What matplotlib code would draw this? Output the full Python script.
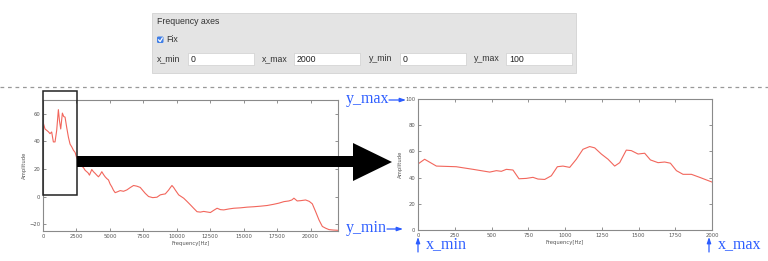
import matplotlib
matplotlib.use('Agg')
import matplotlib.pyplot as plt
from matplotlib.patches import Rectangle, FancyBboxPatch, Polygon

# full spectrum (left)
freq_full = [0, 150, 400, 524, 649, 774, 899, 1024, 1149, 1230, 1324, 1449, 1548, 1648, 1773,
             1900, 2023, 2150, 2273, 2400, 2522, 2650, 2772, 2900, 3022, 3150, 3272, 3380, 3472,
             3646, 3770, 3896, 4020, 4146, 4280, 4396, 4520, 4645, 4770, 4895, 5020, 5145, 5270,
             5395, 5580, 5769, 6020, 6269, 6520, 6768, 7020, 7268, 7450, 7643, 7892, 8200, 8517,
             8766, 8950, 9141, 9391, 9520, 9640, 9770, 9890, 10140, 10515, 10760, 11014, 11260,
             11513, 11760, 12013, 12260, 12512, 12760, 13012, 13260, 13511, 13900, 14260, 14760,
             15259, 15760, 16258, 16760, 17257, 17630, 18007, 18380, 18600, 18756, 19000, 19256,
             19630, 19900, 20130, 20380, 20630, 20880, 21130, 21380, 21700, 22050]
amp_full = [54, 49, 47, 45.6, 46.8, 39.6, 39.6, 48, 63, 55, 49, 60.5, 58, 57.6, 50,
            43, 38, 36, 33.6, 32, 28, 26, 24, 22, 21, 19, 18, 17, 15.5,
            19.6, 18, 16.8, 15.5, 14.3, 16, 18, 16, 14.3, 13, 12, 9, 7, 4.5,
            2.8, 3.5, 4.3, 3.8, 4.8, 6.5, 8, 7.5, 6.6, 4.5, 2.3, 0, -0.8, -0.5,
            1.2, 1.6, 1.9, 4.7, 6.5, 8, 6.5, 4.7, 1.2, -1.2, -3.5, -6, -8.5,
            -11, -11.3, -10.8, -11.2, -11.6, -10, -8.5, -9.5, -9.7, -9, -8.5, -8.2,
            -7.7, -7.4, -7, -6.5, -5.6, -4.8, -3.7, -3.2, -2.5, -1.2, -3.2, -3,
            -2.5, -3.5, -5.3, -11, -17, -21.7, -23, -24, -24.3, -24.5]

# zoomed spectrum (right)
freq_zoom = [0, 45, 125, 260, 375, 488, 533, 567, 601, 646, 687, 737, 782, 816, 862, 907,
             948, 986, 1032, 1077, 1122, 1168, 1202, 1247, 1293, 1338, 1372, 1417, 1451,
             1497, 1542, 1581, 1633, 1678, 1717, 1758, 1803, 1860, 1916, 2000]
amp_zoom = [50.4, 54, 48.8, 48.3, 46.3, 44.2, 45.3, 44.8, 46.3, 45.8, 39.1, 39.4, 40.2, 38.9,
            38.6, 41.4, 48.3, 48.8, 47.8, 54, 61.6, 63.7, 62.7, 58, 54, 48.8, 51.4, 61, 60.6,
            58, 58.6, 53.5, 51.4, 51.9, 51, 45.3, 42.5, 42.5, 40.2, 36.6]

field_labels = ['x_min', 'x_max', 'y_min', 'y_max']
field_values = ['0', '2000', '0', '100']
field_label_x = [157, 262, 369, 474]
field_box_x = [188, 294, 400, 506]

line_color = '#f2665c'
blue = '#2b5cff'

fig = plt.figure(figsize=(7.68, 2.61), dpi=100)


def style_axes(ax):
    for s in ax.spines.values():
        s.set_color('#8a8a8a')
        s.set_linewidth(0.8)
    ax.tick_params(direction='in', length=2, width=0.5, color='#666666',
                   labelsize=3.8, labelcolor='#555555', pad=2,
                   top=True, right=True)
    ax.set_xlabel('Frequency[Hz]', fontsize=3.8, color='#555555', labelpad=1.5)
    ax.set_ylabel('Amplitude', fontsize=3.8, color='#555555', labelpad=1.5)


ax1 = fig.add_axes([43 / 768, 30 / 261, 295 / 768, 131 / 261])
ax1.plot(freq_full, amp_full, color=line_color, lw=0.8)
ax1.set_xlim(0, 22050)
ax1.set_ylim(-25, 70)
ax1.set_xticks(range(0, 20001, 2500))
ax1.set_yticks([-20, 0, 20, 40, 60])
style_axes(ax1)

ax2 = fig.add_axes([418 / 768, 31 / 261, 294 / 768, 131 / 261])
ax2.plot(freq_zoom, amp_zoom, color=line_color, lw=0.8)
ax2.set_xlim(0, 2000)
ax2.set_ylim(0, 100)
ax2.set_xticks(range(0, 2001, 250))
ax2.set_yticks(range(0, 101, 20))
style_axes(ax2)

# overlay in pixel coordinates
ov = fig.add_axes([0, 0, 1, 1], zorder=10)
ov.set_xlim(0, 768)
ov.set_ylim(261, 0)
ov.axis('off')
ov.patch.set_alpha(0)

# settings panel
ov.add_patch(Rectangle((152, 13), 424, 60, facecolor='#e4e4e4', edgecolor='#d2d2d2', lw=0.6))
ov.text(157, 22, 'Frequency axes', fontsize=6.3, family='Liberation Sans', color='#333333', va='center')
ov.add_patch(FancyBboxPatch((157, 36.5), 6.5, 6.5, boxstyle='round,pad=0,rounding_size=1.3',
                            facecolor='#3f7ee6', edgecolor='none'))
ov.plot([158.6, 160.1, 162.3], [39.9, 41.6, 38], color='white', lw=0.9)
ov.text(166, 40, 'Fix', fontsize=6.3, family='Liberation Sans', color='#333333', va='center')
for lab, val, lx, bx in zip(field_labels, field_values, field_label_x, field_box_x):
    ov.text(lx, 58.5, lab, fontsize=6.3, family='Liberation Sans', color='#333333', va='center')
    ov.add_patch(Rectangle((bx, 52.5), 66, 12.5, facecolor='white', edgecolor='#cfcfcf', lw=0.5))
    ov.text(bx + 3, 59, val, fontsize=6.3, family='Liberation Sans', color='#222222', va='center')

# dashed separator
ov.plot([0, 768], [87, 87], color='#999999', lw=0.9, ls=(0, (3, 3)))

# zoom region box and arrow
ov.add_patch(Rectangle((43, 91), 34, 104, facecolor='none', edgecolor='#222222', lw=1.1))
ov.add_patch(Polygon([(77, 156), (353, 156), (353, 143), (392, 162), (353, 181), (353, 167), (77, 167)],
                     closed=True, facecolor='black', edgecolor='none'))

# blue annotations
ann = dict(fontsize=11.5, family='Liberation Serif', color=blue, va='center')
arr = dict(arrowstyle='-|>,head_length=0.35,head_width=0.12', color=blue, lw=0.9,
           shrinkA=0, shrinkB=0)
ov.text(346, 99, 'y_max', **ann)
ov.annotate('', xy=(406, 100), xytext=(389, 100), arrowprops=arr)
ov.text(346, 228, 'y_min', **ann)
ov.annotate('', xy=(403, 229), xytext=(387, 229), arrowprops=arr)
ov.text(426, 244.5, 'x_min', **ann)
ov.annotate('', xy=(418, 237), xytext=(418, 252), arrowprops=arr)
ov.text(718, 244.5, 'x_max', **ann)
ov.annotate('', xy=(709, 237), xytext=(709, 252), arrowprops=arr)

fig.savefig('out.png', dpi=100)
